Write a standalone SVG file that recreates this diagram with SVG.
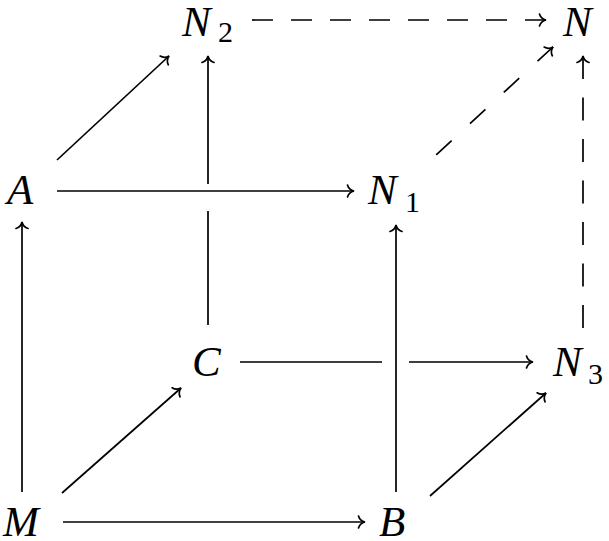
<svg xmlns="http://www.w3.org/2000/svg" width="609" height="541" viewBox="0 0 609 541">
<style>
text{font-family:"Liberation Serif","Times New Roman",serif;fill:#000}
.lbl{font-style:italic;font-size:43px}
.sub{font-style:normal;font-size:30px}
.ln{stroke:#000;stroke-width:1.7;fill:none}
.ar{marker-end:url(#to)}
.da{stroke-dasharray:21 18}
</style>
<defs>
<marker id="to" viewBox="-8 -7 10 14" refX="0.5" refY="0" markerWidth="10" markerHeight="14" markerUnits="userSpaceOnUse" orient="auto">
<path d="M -6,-6 C -5,-2.5 -2,-0.6 0.5,0 C -2,0.6 -5,2.5 -6,6" fill="none" stroke="#000" stroke-width="1.7" stroke-linecap="round"/>
</marker>
</defs>
<g id="connectors">
<line class="ln ar" x1="63" y1="522" x2="365" y2="522"/>
<line class="ln ar" x1="22" y1="492" x2="22" y2="222"/>
<line class="ln ar" x1="62" y1="493" x2="181" y2="388"/>
<line class="ln ar" x1="57" y1="160" x2="169" y2="56"/>
<line class="ln ar" x1="57" y1="191" x2="354" y2="191"/>
<path class="ln ar" d="M208,325 V211 M208,184 V56"/>
<path class="ln ar" d="M240,362 H382 M409,362 H533"/>
<line class="ln ar" x1="396" y1="492" x2="396" y2="225"/>
<line class="ln ar" x1="430" y1="496" x2="546" y2="393"/>
<line class="ln" x1="583" y1="56" x2="583" y2="328" stroke-dasharray="23 18.5"/>
<line class="ln ar" x1="583" y1="58" x2="583" y2="56"/>
<line class="ln da" x1="252" y1="20" x2="546" y2="20"/>
<line class="ln ar" x1="544" y1="20" x2="546" y2="20"/>
<line class="ln" x1="553" y1="47" x2="435" y2="156" stroke-dasharray="21 25"/>
<line class="ln ar" x1="551.5" y1="48.4" x2="553" y2="47"/>
</g>
<g id="N2"><text class="lbl" x="182" y="36">N</text><text class="sub" x="218" y="42">2</text></g>
<g id="N"><text class="lbl" x="563" y="36">N</text></g>
<g id="A"><text class="lbl" x="7" y="204">A</text></g>
<g id="N1"><text class="lbl" x="368" y="204">N</text><text class="sub" x="405" y="212">1</text></g>
<g id="C"><text class="lbl" x="192" y="376">C</text></g>
<g id="N3"><text class="lbl" x="553" y="376">N</text><text class="sub" x="588" y="384">3</text></g>
<g id="M"><text class="lbl" x="3" y="536">M</text></g>
<g id="B"><text class="lbl" x="379" y="536">B</text></g>
</svg>
